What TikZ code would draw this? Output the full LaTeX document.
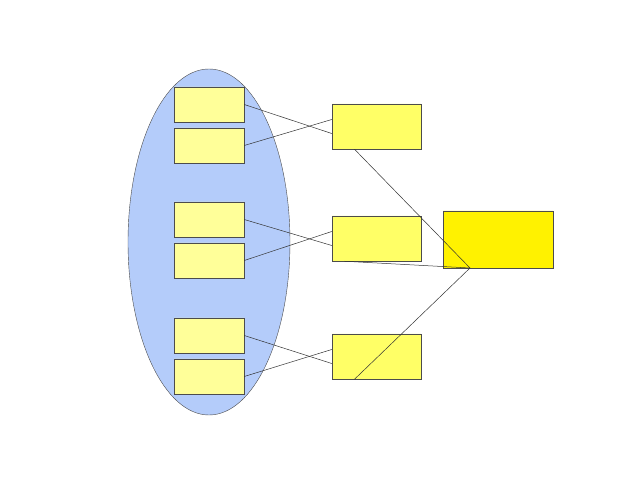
\documentclass[tikz,border=0pt]{standalone}
\usetikzlibrary{shapes.misc,shapes.geometric}
\definecolor{ellblue}{RGB}{180,204,250}
\definecolor{smallyel}{RGB}{255,255,153}
\definecolor{midyel}{RGB}{255,255,102}
\tikzset{
 box/.style={chamfered rectangle, chamfered rectangle xsep=6pt, chamfered rectangle ysep=6pt, draw=black!70, line width=0.5pt, inner sep=0pt},
 smallbox/.style={box, fill=smallyel, minimum width=70pt, minimum height=35pt},
 midbox/.style={box, fill=midyel, minimum width=89pt, minimum height=45pt},
 bigbox/.style={box, fill=yellow, minimum width=110pt, minimum height=57pt, chamfered rectangle xsep=9pt},
 conn/.style={draw=black!80, line width=0.5pt}
}
\begin{document}
\begin{tikzpicture}[x=1pt,y=-1pt]
\useasboundingbox (0,0) rectangle (638,478);
\node[ellipse, draw=black!70, fill=ellblue, minimum width=162pt, minimum height=346pt, inner sep=0pt] (ell) at (209,242) {};
\node[smallbox] (s1) at (209,104.5) {};
\node[smallbox] (s2) at (209,145.5) {};
\node[smallbox] (s3) at (209,219.5) {};
\node[smallbox] (s4) at (209,260.5) {};
\node[smallbox] (s5) at (209,335.5) {};
\node[smallbox] (s6) at (209,376.5) {};
\node[midbox] (m1) at (376.5,126.5) {};
\node[midbox] (m2) at (376.5,238.5) {};
\node[midbox] (m3) at (376.5,356.5) {};
\node[bigbox] (b) at (498,239.5) {};
\coordinate (bb) at (470,268);
\draw[conn] (s1.east) -- ([yshift=-7pt]m1.west);
\draw[conn] (s2.east) -- ([yshift=7pt]m1.west);
\draw[conn] (s3.east) -- ([yshift=-7pt]m2.west);
\draw[conn] (s4.east) -- ([yshift=7pt]m2.west);
\draw[conn] (s5.east) -- ([yshift=-7pt]m3.west);
\draw[conn] (s6.east) -- ([yshift=7pt]m3.west);
\draw[conn] ([xshift=-22pt]m1.south) -- (bb);
\draw[conn] ([xshift=-32pt]m2.south) -- (bb);
\draw[conn] ([xshift=-22pt]m3.south) -- (bb);
\end{tikzpicture}
\end{document}
